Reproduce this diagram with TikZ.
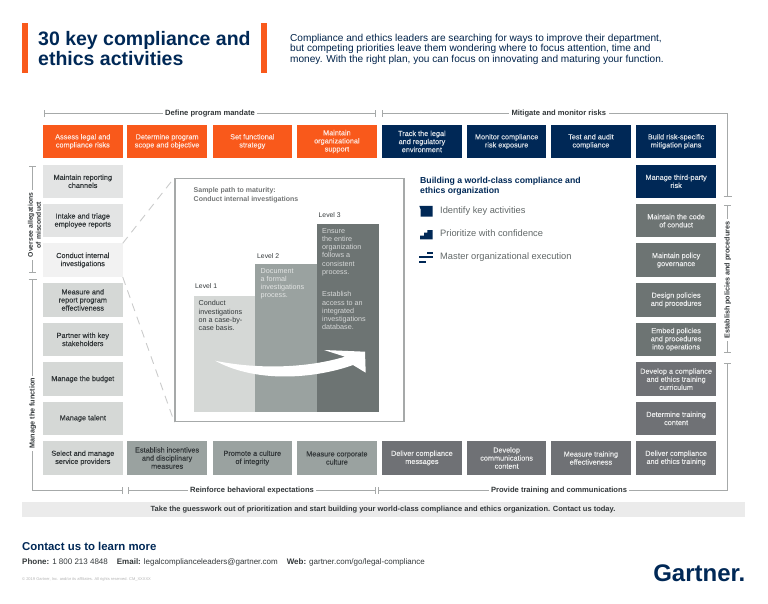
\documentclass[tikz,border=0pt]{standalone}
\usepackage{fontspec}
\setmainfont{Liberation Sans}
\newfontfamily\medfont[FakeBold=0.25]{Liberation Sans}
\usepackage{tikz}
\usetikzlibrary{arrows}
\definecolor{accent}{HTML}{F9591B}
\definecolor{navy}{HTML}{002856}
\definecolor{pale}{HTML}{E3E4E4}
\definecolor{palest}{HTML}{F2F2F2}
\definecolor{silver}{HTML}{D5D8D6}
\definecolor{sage}{HTML}{9AA2A0}
\definecolor{slate}{HTML}{6D7473}
\definecolor{ash}{HTML}{6F7175}
\definecolor{ink}{HTML}{33383A}
\definecolor{rule}{HTML}{A6A9A9}
\tikzset{
 card/.style={minimum width=79.5pt, minimum height=33.5pt, inner sep=0pt, align=center, font=\medfont\fontsize{7.3}{8.1}\selectfont},
 redcard/.style={card, fill=accent, text=white!85!accent},
 bluecard/.style={card, fill=navy, text=white!85!navy},
 lightcard/.style={card, fill=silver, text=ink},
 sagecard/.style={card, fill=sage, text=ink},
 slatecard/.style={card, fill=slate, text=white!85!slate},
 ashcard/.style={card, fill=ash, text=white!85!ash},
 bracket/.style={draw=rule, line width=0.8pt},
 tag/.style={fill=white, inner sep=2.5pt, font=\fontsize{7.6}{8}\bfseries\selectfont, text=ink, align=center},
 sidetag/.style={tag, rotate=90, font=\fontsize{7.2}{8}\bfseries\selectfont},
 plain/.style={anchor=base west, inner sep=0pt},
 body/.style={anchor=north west, inner sep=0pt, align=left, font=\fontsize{7.2}{8.1}\selectfont},
 levelbar/.style={inner sep=0pt, anchor=south west},
 zoomline/.style={draw=rule!60, line width=0.9pt, dash pattern=on 8pt off 6pt},
}
\begin{document}
\begin{tikzpicture}[x=1pt, y=-1pt]
 \useasboundingbox (0,0) rectangle (768,604);

 % header
 \fill[accent] (22,23) rectangle (28,73);
 \fill[accent] (261,23) rectangle (267,73);
 \node[plain, text=navy, align=left, font=\fontsize{19.5}{20}\bfseries\selectfont] (headline) at (38,65.5) {30 key compliance and\\ethics activities};
 \node[plain, text=navy!85!black, align=left, font=\fontsize{10.1}{10.8}\selectfont] (intro) at (290,62.7) {Compliance and ethics leaders are searching for ways to improve their department,\\but competing priorities leave them wondering where to focus attention, time and\\money. With the right plan, you can focus on innovating and maturing your function.};

 % brackets
 \draw[bracket, |-|] (43.6,113.7) -- (375.3,113.7);
 \draw[bracket, |-] (382,113.7) -- (727.7,113.7) -- (727.7,196.7);
 \draw[bracket] (723.7,196.7) -- (731.7,196.7);
 \draw[bracket, |-|] (727.7,205) -- (727.7,353);
 \draw[bracket, |-] (727.7,363) -- (727.7,490.7) -- (378.4,490.7);
 \draw[bracket] (378.4,487) -- (378.4,494.4);
 \draw[bracket, |-|] (128.4,490.7) -- (375.3,490.7);
 \draw[bracket, |-] (122.5,490.7) -- (32.7,490.7) -- (32.7,279);
 \draw[bracket] (28.7,279) -- (36.7,279);
 \draw[bracket, |-|] (32.7,166) -- (32.7,273);
 \node[tag] (mandate) at (210,113.7) {Define program mandate};
 \node[tag] (mitigate) at (558.8,113.7) {Mitigate and monitor risks};
 \node[tag] (reinforce) at (252,490.7) {Reinforce behavioral expectations};
 \node[tag] (training) at (559,490.7) {Provide training and communications};
 \node[sidetag, font=\fontsize{6.8}{8}\bfseries\selectfont] (oversee) at (34.5,225) {Oversee allegations\\of misconduct};
 \node[sidetag] (manage) at (32.7,413) {Manage the function};
 \node[sidetag] (establish) at (727.7,280) {Establish policies and procedures};

 % top row
 \node[redcard] (assess) at (82.8,141.5) {Assess legal and\\compliance risks};
 \node[redcard] (scope) at (167.1,141.5) {Determine program\\scope and objective};
 \node[redcard] (strategy) at (252.3,141.5) {Set functional\\strategy};
 \node[redcard] (support) at (336.9,141.5) {Maintain\\organizational\\support};
 \node[bluecard] (track) at (421.9,141.5) {Track the legal\\and regulatory\\environment};
 \node[bluecard] (exposure) at (506.6,141.5) {Monitor compliance\\risk exposure};
 \node[bluecard] (audit) at (590.9,141.5) {Test and audit\\compliance};
 \node[bluecard] (plans) at (676.1,141.5) {Build risk-specific\\mitigation plans};

 % left column
 \node[lightcard, fill=pale] (channels) at (82.8,181.3) {Maintain reporting\\channels};
 \node[lightcard, fill=pale] (intake) at (82.8,220.7) {Intake and triage\\employee reports};
 \node[lightcard, fill=palest] (conduct) at (82.8,260.2) {Conduct internal\\investigations};
 \node[lightcard] (measure) at (82.8,299.9) {Measure and\\report program\\effectiveness};
 \node[lightcard] (partner) at (82.8,339.4) {Partner with key\\stakeholders};
 \node[lightcard] (budget) at (82.8,379.2) {Manage the budget};
 \node[lightcard] (talent) at (82.8,418.4) {Manage talent};
 \node[lightcard] (providers) at (82.8,458) {Select and manage\\service providers};

 % right column
 \node[bluecard] (thirdparty) at (676.1,181.3) {Manage third-party\\risk};
 \node[slatecard] (code) at (676.1,220.7) {Maintain the code\\of conduct};
 \node[slatecard] (governance) at (676.1,260.2) {Maintain policy\\governance};
 \node[slatecard] (design) at (676.1,299.9) {Design policies\\and procedures};
 \node[slatecard] (embed) at (676.1,339.4) {Embed policies\\and procedures\\into operations};
 \node[ashcard] (curriculum) at (676.1,379.2) {Develop a compliance\\and ethics training\\curriculum};
 \node[ashcard] (content) at (676.1,418.4) {Determine training\\content};

 % bottom row
 \node[sagecard] (incentives) at (167.1,458) {Establish incentives\\and disciplinary\\measures};
 \node[sagecard] (integrity) at (252.3,458) {Promote a culture\\of integrity};
 \node[sagecard] (culture) at (336.9,458) {Measure corporate\\culture};
 \node[ashcard] (messages) at (421.9,458) {Deliver compliance\\messages};
 \node[ashcard] (develop) at (506.6,458) {Develop\\communications\\content};
 \node[ashcard] (effect) at (590.9,458) {Measure training\\effectiveness};
 \node[ashcard] (deliver) at (676.1,458) {Deliver compliance\\and ethics training};

 % maturity panel
 \node[draw=rule, line width=1.2pt, minimum width=229pt, minimum height=243.4pt, inner sep=0pt] (panel) at (289.5,300) {};
 \draw[zoomline] (conduct.north east) -- (panel.north west);
 \draw[zoomline] (conduct.south east) -- (panel.south west);
 \node[plain, text=rule!70!black, align=left, font=\fontsize{7}{9}\bfseries\selectfont] (sample) at (193.5,201.5) {Sample path to maturity:\\Conduct internal investigations};

 \node[levelbar, fill=silver, minimum width=61pt, minimum height=116pt] (bar1) at (194,412) {};
 \node[levelbar, fill=sage, minimum width=62pt, minimum height=148pt] (bar2) at (255,412) {};
 \node[levelbar, fill=slate, minimum width=61.3pt, minimum height=188pt] (bar3) at (317,412) {};
 \node[plain, text=ink, font=\fontsize{6.8}{8}\selectfont] (level1) at (195,288) {Level 1};
 \node[plain, text=ink, font=\fontsize{6.8}{8}\selectfont] (level2) at (257,258.5) {Level 2};
 \node[plain, text=ink, font=\fontsize{6.8}{8}\selectfont] (level3) at (318.5,217.5) {Level 3};
 \node[body, text=ink] (text1) at (198.5,300.5) {Conduct\\investigations\\on a case-by-\\case basis.};
 \node[body, text=white!72!sage] (text2) at (260.5,268.5) {Document\\a formal\\investigations\\process.};
 \node[body, text=white!72!slate] (text3) at (322,228.5) {Ensure\\the entire\\organization\\follows a\\consistent\\process.};
 \node[body, text=white!72!slate] (text4) at (322,291.5) {Establish\\access to an\\integrated\\investigations\\database.};
 \fill[white] (215,360.7) .. controls (250,368) and (300,370) .. (345,356.7) -- (324,350) -- (365,351.7) -- (365.7,372.7) -- (353,365) .. controls (320,377) and (260,385) .. (215,360.7) -- cycle;

 % keys
 \node[plain, text=navy, align=left, font=\fontsize{8.7}{9.9}\bfseries\selectfont] (world) at (420,193.5) {Building a world-class compliance and\\ethics organization};
 \fill[navy] (419.3,206) -- (432.7,206) -- (432.7,216.7) -- (420.5,216.7) -- (420.5,209) -- cycle;
 \fill[navy] (420,239.3) -- (420,235.5) -- (424,235.5) -- (424,232.5) -- (427.3,232.5) -- (427.3,230) -- (432.7,230) -- (432.7,239.3) -- cycle;
 \fill[navy] (426.7,251.7) rectangle (432.7,254);
 \fill[navy] (419.3,255.7) rectangle (432.7,258.3);
 \fill[navy] (419.3,261) rectangle (426,263.3);
 \node[plain, text=slate!90!black, font=\fontsize{9.3}{10}\selectfont] (identify) at (440,213.4) {Identify key activities};
 \node[plain, text=slate!90!black, font=\fontsize{9.3}{10}\selectfont] (prioritize) at (440,236.5) {Prioritize with confidence};
 \node[plain, text=slate!90!black, font=\fontsize{9.3}{10}\selectfont] (master) at (440,259.5) {Master organizational execution};

 % footer
 \fill[black!8] (22,501.7) rectangle (745,517.3);
 \node[inner sep=0pt, text=ink, font=\fontsize{7.5}{8}\bfseries\selectfont] (guess) at (383,509.5) {Take the guesswork out of prioritization and start building your world-class compliance and ethics organization. Contact us today.};
 \node[plain, text=navy, font=\fontsize{11.4}{13}\bfseries\selectfont] (contact) at (22,550) {Contact us to learn more};
 \node[plain, text=ink, font=\fontsize{8}{9}\selectfont] (phone) at (22,564) {\textbf{Phone:} 1 800 213 4848\hspace{9pt}\textbf{Email:} legalcomplianceleaders@gartner.com\hspace{9pt}\textbf{Web:} gartner.com/go/legal-compliance};
 \node[plain, text=black!30, font=\fontsize{4}{5}\selectfont] (copy) at (22,580) {© 2019 Gartner, Inc. and/or its affiliates. All rights reserved. CM\_XXXXX};
 \node[plain, anchor=base east, text=navy, font=\fontsize{24}{28}\bfseries\selectfont] (logo) at (745.5,581.5) {Gartner.};
\end{tikzpicture}
\end{document}
